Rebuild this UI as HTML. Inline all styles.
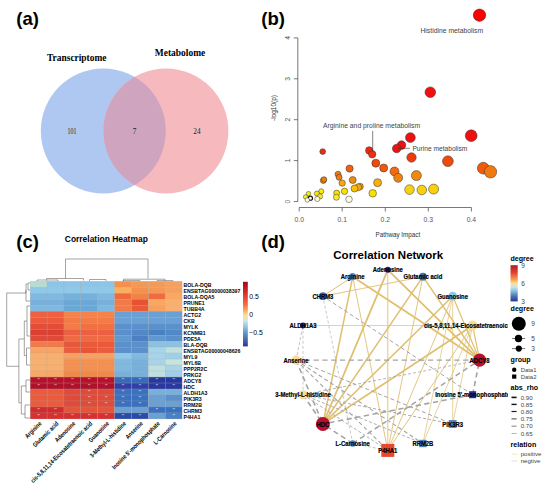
<!DOCTYPE html>
<html><head><meta charset="utf-8"><style>
html,body{margin:0;padding:0;background:#fff;width:550px;height:491px;overflow:hidden}
svg{display:block}

</style></head><body>
<svg width="550" height="491" viewBox="0 0 550 491" font-family="Liberation Sans">
<rect width="550" height="491" fill="#fff"/>
<text x="16.3" y="24.5" font-size="18.5" font-weight="bold" font-family="Liberation Sans">(a)</text>
<defs><clipPath id="cb"><circle cx="103.3" cy="131" r="62.5"/></clipPath></defs>
<circle cx="103.3" cy="131" r="62.5" fill="#afc8f2"/>
<circle cx="165.9" cy="131" r="62.5" fill="#f6babe"/>
<circle cx="165.9" cy="131" r="62.5" fill="#cfa4bf" clip-path="url(#cb)"/>
<text x="47" y="60.8" font-size="9.3" font-weight="bold" font-family="Liberation Serif" textLength="59.5" lengthAdjust="spacingAndGlyphs">Transcriptome</text>
<text x="154.8" y="55.5" font-size="9.3" font-weight="bold" font-family="Liberation Serif" textLength="50.5" lengthAdjust="spacingAndGlyphs">Metabolome</text>
<text x="67.6" y="133.7" font-size="7.3" fill="#222" font-family="Liberation Serif" textLength="8.8" lengthAdjust="spacingAndGlyphs">101</text>
<text x="134.5" y="133.7" font-size="7.3" fill="#222" font-family="Liberation Serif" text-anchor="middle">7</text>
<text x="197" y="133.7" font-size="7.3" fill="#222" font-family="Liberation Serif" text-anchor="middle">24</text>
<text x="261.3" y="24.5" font-size="18.5" font-weight="bold" font-family="Liberation Sans">(b)</text>
<g stroke="#555" stroke-width="0.8" fill="none">
<path d="M297.8 37.9 V201.5"/>
<path d="M293.8 201.5 H297.8"/>
<path d="M293.8 160.6 H297.8"/>
<path d="M293.8 119.7 H297.8"/>
<path d="M293.8 78.8 H297.8"/>
<path d="M293.8 37.9 H297.8"/>
<path d="M299.2 207.5 H471.4"/>
<path d="M299.2 207.5 V211.5"/>
<path d="M342.2 207.5 V211.5"/>
<path d="M385.3 207.5 V211.5"/>
<path d="M428.3 207.5 V211.5"/>
<path d="M471.4 207.5 V211.5"/>
</g>
<text transform="translate(289.5 201.5) rotate(-90)" font-size="6.8" fill="#555" text-anchor="middle" font-family="Liberation Sans">0</text>
<text transform="translate(289.5 160.6) rotate(-90)" font-size="6.8" fill="#555" text-anchor="middle" font-family="Liberation Sans">1</text>
<text transform="translate(289.5 119.7) rotate(-90)" font-size="6.8" fill="#555" text-anchor="middle" font-family="Liberation Sans">2</text>
<text transform="translate(289.5 78.8) rotate(-90)" font-size="6.8" fill="#555" text-anchor="middle" font-family="Liberation Sans">3</text>
<text transform="translate(289.5 37.9) rotate(-90)" font-size="6.8" fill="#555" text-anchor="middle" font-family="Liberation Sans">4</text>
<text x="299.2" y="221.8" font-size="6.8" fill="#555" text-anchor="middle" font-family="Liberation Sans">0.0</text>
<text x="342.2" y="221.8" font-size="6.8" fill="#555" text-anchor="middle" font-family="Liberation Sans">0.1</text>
<text x="385.3" y="221.8" font-size="6.8" fill="#555" text-anchor="middle" font-family="Liberation Sans">0.2</text>
<text x="428.3" y="221.8" font-size="6.8" fill="#555" text-anchor="middle" font-family="Liberation Sans">0.3</text>
<text x="471.4" y="221.8" font-size="6.8" fill="#555" text-anchor="middle" font-family="Liberation Sans">0.4</text>
<text x="375.5" y="236.9" font-size="6.6" fill="#333" font-family="Liberation Sans" textLength="44.7" lengthAdjust="spacingAndGlyphs">Pathway Impact</text>
<text transform="translate(275.5 108) rotate(-90)" font-size="6.5" fill="#333" text-anchor="middle" font-family="Liberation Sans">-log10(p)</text>
<g stroke="#333" stroke-width="0.5">
<circle cx="310.4" cy="198.2" r="2.1" fill="#fffff0" stroke="#111" stroke-width="1.1"/>
<circle cx="308.5" cy="193.6" r="2.2" fill="#f8f000"/>
<circle cx="305.6" cy="196.9" r="2.2" fill="#f8f020"/>
<circle cx="307.3" cy="200" r="2.2" fill="#fffff0"/>
<circle cx="321.3" cy="191.3" r="2.6" fill="#f8ec00"/>
<circle cx="316.9" cy="193.6" r="2.6" fill="#f8e800"/>
<circle cx="320" cy="196.4" r="2.6" fill="#f8ec20"/>
<circle cx="317.3" cy="199" r="2.6" fill="#fffce0"/>
<circle cx="336.7" cy="193.1" r="3.0" fill="#f8e000"/>
<circle cx="336.4" cy="197.3" r="3.0" fill="#f8e830"/>
<circle cx="349" cy="199.3" r="3.3" fill="#fffbe0"/>
<circle cx="344.5" cy="191.3" r="3.2" fill="#f8e000"/>
<circle cx="372.7" cy="193.3" r="3.8" fill="#f8e000"/>
<circle cx="342.2" cy="183.1" r="3.2" fill="#f8a810"/>
<circle cx="360" cy="186.5" r="3.3" fill="#f0a010"/>
<circle cx="358.2" cy="187.3" r="3.5" fill="#f4a810"/>
<circle cx="354.5" cy="188.5" r="3.5" fill="#f8c000"/>
<circle cx="377.6" cy="182.7" r="4.0" fill="#f8b010"/>
<circle cx="352.7" cy="180.0" r="3.5" fill="#f08a10"/>
<circle cx="323.3" cy="180.5" r="3.0" fill="#f09010"/>
<circle cx="324" cy="179.5" r="2.8" fill="#e88010"/>
<circle cx="338.0" cy="174.2" r="3.0" fill="#f07a10"/>
<circle cx="339.1" cy="177.3" r="3.0" fill="#f07a10"/>
<circle cx="349.6" cy="168.6" r="3.6" fill="#f06010"/>
<circle cx="322.7" cy="151.6" r="2.9" fill="#e83010"/>
<circle cx="369.2" cy="150.4" r="3.7" fill="#ee2a0a"/>
<circle cx="372.2" cy="154.3" r="3.7" fill="#ee3010"/>
<circle cx="375.8" cy="163.2" r="4.0" fill="#f04a0a"/>
<circle cx="383.7" cy="168.0" r="4.0" fill="#f05a0a"/>
<circle cx="394.5" cy="171.5" r="4.5" fill="#f06a10"/>
<circle cx="398.2" cy="177.8" r="4.5" fill="#f08010"/>
<circle cx="416.4" cy="175.6" r="5.0" fill="#f08a10"/>
<circle cx="409.5" cy="189.6" r="4.8" fill="#f8d010"/>
<circle cx="421.8" cy="190.0" r="4.8" fill="#f8d010"/>
<circle cx="433.6" cy="189.1" r="5.0" fill="#f8d010"/>
<circle cx="410.4" cy="137.6" r="4.9" fill="#f01010"/>
<circle cx="401.5" cy="145.1" r="4.3" fill="#f01010"/>
<circle cx="396.7" cy="148.5" r="4.3" fill="#f01010"/>
<circle cx="411.5" cy="157.5" r="4.7" fill="#f03a0a"/>
<circle cx="447.9" cy="161.2" r="5.4" fill="#f04a0a"/>
<circle cx="430.3" cy="92.2" r="5.3" fill="#f01010"/>
<circle cx="471.2" cy="135.7" r="5.9" fill="#f01010"/>
<circle cx="483.3" cy="168.2" r="5.9" fill="#f05a0a"/>
<circle cx="490.5" cy="171.8" r="6.2" fill="#f07a10"/>
<circle cx="479.5" cy="15.2" r="6.2" fill="#ff0000"/>
</g>
<text x="451.8" y="32.8" font-size="6.8" fill="#444" text-anchor="middle" font-family="Liberation Sans">Histidine metabolism</text>
<text x="323" y="128" font-size="6.8" fill="#444" font-family="Liberation Sans">Arginine and proline metabolism</text>
<text x="412.4" y="151" font-size="6.8" fill="#444" font-family="Liberation Sans" textLength="55" lengthAdjust="spacingAndGlyphs">Purine metabolism</text>
<path d="M372.7 131 V151.5 M398 148.3 H410" stroke="#333" stroke-width="0.6"/>
<text x="16.3" y="247.8" font-size="18.5" font-weight="bold" font-family="Liberation Sans">(c)</text>
<text x="64.8" y="241.6" font-size="8.45" font-weight="bold" font-family="Liberation Sans">Correlation Heatmap</text>
<g stroke="#a0a0a0" stroke-opacity="0.55" stroke-width="0.4">
<rect x="30.20" y="281.30" width="16.88" height="5.99" fill="#b5dcd4"/>
<rect x="47.08" y="281.30" width="16.88" height="5.99" fill="#8ec4e6"/>
<rect x="63.96" y="281.30" width="16.88" height="5.99" fill="#8ec4e6"/>
<rect x="80.84" y="281.30" width="16.88" height="5.99" fill="#8ec4e6"/>
<rect x="97.72" y="281.30" width="16.88" height="5.99" fill="#8ec4e6"/>
<rect x="114.60" y="281.30" width="16.88" height="5.99" fill="#f4904a"/>
<rect x="131.48" y="281.30" width="16.88" height="5.99" fill="#f49858"/>
<rect x="148.36" y="281.30" width="16.88" height="5.99" fill="#f49a58"/>
<rect x="165.24" y="281.30" width="16.88" height="5.99" fill="#f4a060"/>
<rect x="30.20" y="287.29" width="16.88" height="5.99" fill="#90c8e8"/>
<rect x="47.08" y="287.29" width="16.88" height="5.99" fill="#90c8e8"/>
<rect x="63.96" y="287.29" width="16.88" height="5.99" fill="#90c8e8"/>
<rect x="80.84" y="287.29" width="16.88" height="5.99" fill="#90c8e8"/>
<rect x="97.72" y="287.29" width="16.88" height="5.99" fill="#90c8e8"/>
<rect x="114.60" y="287.29" width="16.88" height="5.99" fill="#f8b060"/>
<rect x="131.48" y="287.29" width="16.88" height="5.99" fill="#f49050"/>
<rect x="148.36" y="287.29" width="16.88" height="5.99" fill="#f49858"/>
<rect x="165.24" y="287.29" width="16.88" height="5.99" fill="#f4a060"/>
<rect x="30.20" y="293.27" width="16.88" height="5.99" fill="#80b8e0"/>
<rect x="47.08" y="293.27" width="16.88" height="5.99" fill="#80b8e0"/>
<rect x="63.96" y="293.27" width="16.88" height="5.99" fill="#78b0dc"/>
<rect x="80.84" y="293.27" width="16.88" height="5.99" fill="#78b0dc"/>
<rect x="97.72" y="293.27" width="16.88" height="5.99" fill="#80b8e0"/>
<rect x="114.60" y="293.27" width="16.88" height="5.99" fill="#f06a3c"/>
<rect x="131.48" y="293.27" width="16.88" height="5.99" fill="#f08446"/>
<rect x="148.36" y="293.27" width="16.88" height="5.99" fill="#f06c40"/>
<rect x="165.24" y="293.27" width="16.88" height="5.99" fill="#f8a860"/>
<rect x="30.20" y="299.25" width="16.88" height="5.99" fill="#78b0dc"/>
<rect x="47.08" y="299.25" width="16.88" height="5.99" fill="#78b0dc"/>
<rect x="63.96" y="299.25" width="16.88" height="5.99" fill="#6aa8d8"/>
<rect x="80.84" y="299.25" width="16.88" height="5.99" fill="#6aa8d8"/>
<rect x="97.72" y="299.25" width="16.88" height="5.99" fill="#78b0dc"/>
<rect x="114.60" y="299.25" width="16.88" height="5.99" fill="#f07a48"/>
<rect x="131.48" y="299.25" width="16.88" height="5.99" fill="#e85232"/>
<rect x="148.36" y="299.25" width="16.88" height="5.99" fill="#f8a860"/>
<rect x="165.24" y="299.25" width="16.88" height="5.99" fill="#f8b070"/>
<rect x="30.20" y="305.24" width="16.88" height="5.99" fill="#80b8e0"/>
<rect x="47.08" y="305.24" width="16.88" height="5.99" fill="#80b8e0"/>
<rect x="63.96" y="305.24" width="16.88" height="5.99" fill="#6aa8d8"/>
<rect x="80.84" y="305.24" width="16.88" height="5.99" fill="#6aa8d8"/>
<rect x="97.72" y="305.24" width="16.88" height="5.99" fill="#80b8e0"/>
<rect x="114.60" y="305.24" width="16.88" height="5.99" fill="#f07a48"/>
<rect x="131.48" y="305.24" width="16.88" height="5.99" fill="#e85a38"/>
<rect x="148.36" y="305.24" width="16.88" height="5.99" fill="#f8a060"/>
<rect x="165.24" y="305.24" width="16.88" height="5.99" fill="#f8b070"/>
<rect x="30.20" y="311.23" width="16.88" height="5.99" fill="#ee6040"/>
<rect x="47.08" y="311.23" width="16.88" height="5.99" fill="#ee6040"/>
<rect x="63.96" y="311.23" width="16.88" height="5.99" fill="#f4844a"/>
<rect x="80.84" y="311.23" width="16.88" height="5.99" fill="#f4844a"/>
<rect x="97.72" y="311.23" width="16.88" height="5.99" fill="#f4844a"/>
<rect x="114.60" y="311.23" width="16.88" height="5.99" fill="#6aa0d4"/>
<rect x="131.48" y="311.23" width="16.88" height="5.99" fill="#6aa0d4"/>
<rect x="148.36" y="311.23" width="16.88" height="5.99" fill="#6aa0d4"/>
<rect x="165.24" y="311.23" width="16.88" height="5.99" fill="#6aa0d4"/>
<rect x="30.20" y="317.21" width="16.88" height="5.99" fill="#ec5a3c"/>
<rect x="47.08" y="317.21" width="16.88" height="5.99" fill="#ec5a3c"/>
<rect x="63.96" y="317.21" width="16.88" height="5.99" fill="#f47a48"/>
<rect x="80.84" y="317.21" width="16.88" height="5.99" fill="#f47a48"/>
<rect x="97.72" y="317.21" width="16.88" height="5.99" fill="#f47a48"/>
<rect x="114.60" y="317.21" width="16.88" height="5.99" fill="#6aa0d4"/>
<rect x="131.48" y="317.21" width="16.88" height="5.99" fill="#6aa0d4"/>
<rect x="148.36" y="317.21" width="16.88" height="5.99" fill="#6aa0d4"/>
<rect x="165.24" y="317.21" width="16.88" height="5.99" fill="#6aa0d4"/>
<rect x="30.20" y="323.19" width="16.88" height="5.99" fill="#e44c38"/>
<rect x="47.08" y="323.19" width="16.88" height="5.99" fill="#e44c38"/>
<rect x="63.96" y="323.19" width="16.88" height="5.99" fill="#f47a48"/>
<rect x="80.84" y="323.19" width="16.88" height="5.99" fill="#f07040"/>
<rect x="97.72" y="323.19" width="16.88" height="5.99" fill="#f07040"/>
<rect x="114.60" y="323.19" width="16.88" height="5.99" fill="#5a90cc"/>
<rect x="131.48" y="323.19" width="16.88" height="5.99" fill="#5a90cc"/>
<rect x="148.36" y="323.19" width="16.88" height="5.99" fill="#5a90cc"/>
<rect x="165.24" y="323.19" width="16.88" height="5.99" fill="#5a90cc"/>
<rect x="30.20" y="329.18" width="16.88" height="5.99" fill="#dc4030"/>
<rect x="47.08" y="329.18" width="16.88" height="5.99" fill="#dc4030"/>
<rect x="63.96" y="329.18" width="16.88" height="5.99" fill="#ec6040"/>
<rect x="80.84" y="329.18" width="16.88" height="5.99" fill="#ec6040"/>
<rect x="97.72" y="329.18" width="16.88" height="5.99" fill="#ec6040"/>
<rect x="114.60" y="329.18" width="16.88" height="5.99" fill="#5a90cc"/>
<rect x="131.48" y="329.18" width="16.88" height="5.99" fill="#5088c8"/>
<rect x="148.36" y="329.18" width="16.88" height="5.99" fill="#4a80c4"/>
<rect x="165.24" y="329.18" width="16.88" height="5.99" fill="#5088c8"/>
<rect x="30.20" y="335.17" width="16.88" height="5.99" fill="#e04838"/>
<rect x="47.08" y="335.17" width="16.88" height="5.99" fill="#e04838"/>
<rect x="63.96" y="335.17" width="16.88" height="5.99" fill="#f06a44"/>
<rect x="80.84" y="335.17" width="16.88" height="5.99" fill="#f06a44"/>
<rect x="97.72" y="335.17" width="16.88" height="5.99" fill="#f06a44"/>
<rect x="114.60" y="335.17" width="16.88" height="5.99" fill="#6098d0"/>
<rect x="131.48" y="335.17" width="16.88" height="5.99" fill="#4a80c4"/>
<rect x="148.36" y="335.17" width="16.88" height="5.99" fill="#6098d0"/>
<rect x="165.24" y="335.17" width="16.88" height="5.99" fill="#5a90cc"/>
<rect x="30.20" y="341.15" width="16.88" height="5.99" fill="#f07a48"/>
<rect x="47.08" y="341.15" width="16.88" height="5.99" fill="#f07a48"/>
<rect x="63.96" y="341.15" width="16.88" height="5.99" fill="#e85838"/>
<rect x="80.84" y="341.15" width="16.88" height="5.99" fill="#ec5838"/>
<rect x="97.72" y="341.15" width="16.88" height="5.99" fill="#ec5838"/>
<rect x="114.60" y="341.15" width="16.88" height="5.99" fill="#5a90cc"/>
<rect x="131.48" y="341.15" width="16.88" height="5.99" fill="#5a90cc"/>
<rect x="148.36" y="341.15" width="16.88" height="5.99" fill="#8ec0e0"/>
<rect x="165.24" y="341.15" width="16.88" height="5.99" fill="#8ec0e0"/>
<rect x="30.20" y="347.13" width="16.88" height="5.99" fill="#f8a468"/>
<rect x="47.08" y="347.13" width="16.88" height="5.99" fill="#f8a468"/>
<rect x="63.96" y="347.13" width="16.88" height="5.99" fill="#ec5c3c"/>
<rect x="80.84" y="347.13" width="16.88" height="5.99" fill="#e85434"/>
<rect x="97.72" y="347.13" width="16.88" height="5.99" fill="#ec5c3c"/>
<rect x="114.60" y="347.13" width="16.88" height="5.99" fill="#5a90cc"/>
<rect x="131.48" y="347.13" width="16.88" height="5.99" fill="#5a90cc"/>
<rect x="148.36" y="347.13" width="16.88" height="5.99" fill="#a8d4e8"/>
<rect x="165.24" y="347.13" width="16.88" height="5.99" fill="#c0e0e0"/>
<rect x="30.20" y="353.12" width="16.88" height="5.99" fill="#f8b070"/>
<rect x="47.08" y="353.12" width="16.88" height="5.99" fill="#f8b070"/>
<rect x="63.96" y="353.12" width="16.88" height="5.99" fill="#f8a060"/>
<rect x="80.84" y="353.12" width="16.88" height="5.99" fill="#f8a060"/>
<rect x="97.72" y="353.12" width="16.88" height="5.99" fill="#f8a060"/>
<rect x="114.60" y="353.12" width="16.88" height="5.99" fill="#90c8e8"/>
<rect x="131.48" y="353.12" width="16.88" height="5.99" fill="#80b8e0"/>
<rect x="148.36" y="353.12" width="16.88" height="5.99" fill="#a8d4e8"/>
<rect x="165.24" y="353.12" width="16.88" height="5.99" fill="#a0d0e8"/>
<rect x="30.20" y="359.11" width="16.88" height="5.99" fill="#f8b070"/>
<rect x="47.08" y="359.11" width="16.88" height="5.99" fill="#f8b070"/>
<rect x="63.96" y="359.11" width="16.88" height="5.99" fill="#f49050"/>
<rect x="80.84" y="359.11" width="16.88" height="5.99" fill="#f49050"/>
<rect x="97.72" y="359.11" width="16.88" height="5.99" fill="#f49050"/>
<rect x="114.60" y="359.11" width="16.88" height="5.99" fill="#80b8e0"/>
<rect x="131.48" y="359.11" width="16.88" height="5.99" fill="#78b0dc"/>
<rect x="148.36" y="359.11" width="16.88" height="5.99" fill="#a8d4e8"/>
<rect x="165.24" y="359.11" width="16.88" height="5.99" fill="#c8e4dc"/>
<rect x="30.20" y="365.09" width="16.88" height="5.99" fill="#f8b070"/>
<rect x="47.08" y="365.09" width="16.88" height="5.99" fill="#f8b070"/>
<rect x="63.96" y="365.09" width="16.88" height="5.99" fill="#f49050"/>
<rect x="80.84" y="365.09" width="16.88" height="5.99" fill="#f49050"/>
<rect x="97.72" y="365.09" width="16.88" height="5.99" fill="#f49050"/>
<rect x="114.60" y="365.09" width="16.88" height="5.99" fill="#80b8e0"/>
<rect x="131.48" y="365.09" width="16.88" height="5.99" fill="#78b0dc"/>
<rect x="148.36" y="365.09" width="16.88" height="5.99" fill="#c0e0e0"/>
<rect x="165.24" y="365.09" width="16.88" height="5.99" fill="#a8d4e8"/>
<rect x="30.20" y="371.08" width="16.88" height="5.99" fill="#f8a868"/>
<rect x="47.08" y="371.08" width="16.88" height="5.99" fill="#f8a868"/>
<rect x="63.96" y="371.08" width="16.88" height="5.99" fill="#f08848"/>
<rect x="80.84" y="371.08" width="16.88" height="5.99" fill="#f08848"/>
<rect x="97.72" y="371.08" width="16.88" height="5.99" fill="#f08848"/>
<rect x="114.60" y="371.08" width="16.88" height="5.99" fill="#78b0dc"/>
<rect x="131.48" y="371.08" width="16.88" height="5.99" fill="#78b0dc"/>
<rect x="148.36" y="371.08" width="16.88" height="5.99" fill="#c0e0e0"/>
<rect x="165.24" y="371.08" width="16.88" height="5.99" fill="#a0d0e8"/>
<rect x="30.20" y="377.06" width="16.88" height="5.99" fill="#b8102a"/>
<rect x="47.08" y="377.06" width="16.88" height="5.99" fill="#b8102a"/>
<rect x="63.96" y="377.06" width="16.88" height="5.99" fill="#b8102a"/>
<rect x="80.84" y="377.06" width="16.88" height="5.99" fill="#b8102a"/>
<rect x="97.72" y="377.06" width="16.88" height="5.99" fill="#b8102a"/>
<rect x="114.60" y="377.06" width="16.88" height="5.99" fill="#3868b8"/>
<rect x="131.48" y="377.06" width="16.88" height="5.99" fill="#3868b8"/>
<rect x="148.36" y="377.06" width="16.88" height="5.99" fill="#2838a0"/>
<rect x="165.24" y="377.06" width="16.88" height="5.99" fill="#2838a0"/>
<rect x="30.20" y="383.05" width="16.88" height="5.99" fill="#b0102a"/>
<rect x="47.08" y="383.05" width="16.88" height="5.99" fill="#b0102a"/>
<rect x="63.96" y="383.05" width="16.88" height="5.99" fill="#b0102a"/>
<rect x="80.84" y="383.05" width="16.88" height="5.99" fill="#b0102a"/>
<rect x="97.72" y="383.05" width="16.88" height="5.99" fill="#b0102a"/>
<rect x="114.60" y="383.05" width="16.88" height="5.99" fill="#3040a8"/>
<rect x="131.48" y="383.05" width="16.88" height="5.99" fill="#3040a8"/>
<rect x="148.36" y="383.05" width="16.88" height="5.99" fill="#2838a0"/>
<rect x="165.24" y="383.05" width="16.88" height="5.99" fill="#2838a0"/>
<rect x="30.20" y="389.03" width="16.88" height="5.99" fill="#ec5a3c"/>
<rect x="47.08" y="389.03" width="16.88" height="5.99" fill="#ec5a3c"/>
<rect x="63.96" y="389.03" width="16.88" height="5.99" fill="#e04a38"/>
<rect x="80.84" y="389.03" width="16.88" height="5.99" fill="#e04a38"/>
<rect x="97.72" y="389.03" width="16.88" height="5.99" fill="#e04a38"/>
<rect x="114.60" y="389.03" width="16.88" height="5.99" fill="#3a70c0"/>
<rect x="131.48" y="389.03" width="16.88" height="5.99" fill="#3a70c0"/>
<rect x="148.36" y="389.03" width="16.88" height="5.99" fill="#78b0dc"/>
<rect x="165.24" y="389.03" width="16.88" height="5.99" fill="#78b0dc"/>
<rect x="30.20" y="395.01" width="16.88" height="5.99" fill="#ec5a3c"/>
<rect x="47.08" y="395.01" width="16.88" height="5.99" fill="#ec5a3c"/>
<rect x="63.96" y="395.01" width="16.88" height="5.99" fill="#e04a38"/>
<rect x="80.84" y="395.01" width="16.88" height="5.99" fill="#e04a38"/>
<rect x="97.72" y="395.01" width="16.88" height="5.99" fill="#e04a38"/>
<rect x="114.60" y="395.01" width="16.88" height="5.99" fill="#3a70c0"/>
<rect x="131.48" y="395.01" width="16.88" height="5.99" fill="#3a70c0"/>
<rect x="148.36" y="395.01" width="16.88" height="5.99" fill="#6aa0d4"/>
<rect x="165.24" y="395.01" width="16.88" height="5.99" fill="#5a90cc"/>
<rect x="30.20" y="401.00" width="16.88" height="5.99" fill="#ec5a3c"/>
<rect x="47.08" y="401.00" width="16.88" height="5.99" fill="#ec5a3c"/>
<rect x="63.96" y="401.00" width="16.88" height="5.99" fill="#e04a38"/>
<rect x="80.84" y="401.00" width="16.88" height="5.99" fill="#e04a38"/>
<rect x="97.72" y="401.00" width="16.88" height="5.99" fill="#e04a38"/>
<rect x="114.60" y="401.00" width="16.88" height="5.99" fill="#3a70c0"/>
<rect x="131.48" y="401.00" width="16.88" height="5.99" fill="#3a70c0"/>
<rect x="148.36" y="401.00" width="16.88" height="5.99" fill="#6aa0d4"/>
<rect x="165.24" y="401.00" width="16.88" height="5.99" fill="#6aa0d4"/>
<rect x="30.20" y="406.99" width="16.88" height="5.99" fill="#d42a2c"/>
<rect x="47.08" y="406.99" width="16.88" height="5.99" fill="#d42a2c"/>
<rect x="63.96" y="406.99" width="16.88" height="5.99" fill="#e85438"/>
<rect x="80.84" y="406.99" width="16.88" height="5.99" fill="#e85438"/>
<rect x="97.72" y="406.99" width="16.88" height="5.99" fill="#e85438"/>
<rect x="114.60" y="406.99" width="16.88" height="5.99" fill="#6aa0d4"/>
<rect x="131.48" y="406.99" width="16.88" height="5.99" fill="#6aa0d4"/>
<rect x="148.36" y="406.99" width="16.88" height="5.99" fill="#3a70c0"/>
<rect x="165.24" y="406.99" width="16.88" height="5.99" fill="#3a70c0"/>
<rect x="30.20" y="412.97" width="16.88" height="5.99" fill="#d83030"/>
<rect x="47.08" y="412.97" width="16.88" height="5.99" fill="#d83030"/>
<rect x="63.96" y="412.97" width="16.88" height="5.99" fill="#d83030"/>
<rect x="80.84" y="412.97" width="16.88" height="5.99" fill="#d83030"/>
<rect x="97.72" y="412.97" width="16.88" height="5.99" fill="#d83030"/>
<rect x="114.60" y="412.97" width="16.88" height="5.99" fill="#2c4aa8"/>
<rect x="131.48" y="412.97" width="16.88" height="5.99" fill="#2c4aa8"/>
<rect x="148.36" y="412.97" width="16.88" height="5.99" fill="#6aa0d4"/>
<rect x="165.24" y="412.97" width="16.88" height="5.99" fill="#4a80c4"/>
</g>
<g fill="#fff" font-size="3" font-family="Liberation Sans" text-anchor="middle">
<text x="38.64" y="381.25">**</text>
<text x="55.52" y="381.25">**</text>
<text x="72.40" y="381.25">**</text>
<text x="89.28" y="381.25">**</text>
<text x="106.16" y="381.25">**</text>
<text x="123.04" y="381.25">**</text>
<text x="139.92" y="381.25">**</text>
<text x="156.80" y="381.25">**</text>
<text x="173.68" y="381.25">**</text>
<text x="38.64" y="387.24">**</text>
<text x="55.52" y="387.24">**</text>
<text x="72.40" y="387.24">**</text>
<text x="89.28" y="387.24">**</text>
<text x="106.16" y="387.24">**</text>
<text x="123.04" y="387.24">**</text>
<text x="139.92" y="387.24">**</text>
<text x="156.80" y="387.24">**</text>
<text x="173.68" y="387.24">**</text>
<text x="89.28" y="393.22">**</text>
<text x="123.04" y="393.22">**</text>
<text x="139.92" y="393.22">**</text>
<text x="89.28" y="399.21">**</text>
<text x="106.16" y="399.21">**</text>
<text x="123.04" y="399.21">**</text>
<text x="139.92" y="399.21">**</text>
<text x="89.28" y="405.19">**</text>
<text x="106.16" y="405.19">**</text>
<text x="123.04" y="405.19">**</text>
<text x="139.92" y="405.19">**</text>
<text x="38.64" y="411.18">**</text>
<text x="55.52" y="411.18">**</text>
<text x="156.80" y="411.18">**</text>
<text x="173.68" y="411.18">**</text>
<text x="38.64" y="417.16">**</text>
<text x="55.52" y="417.16">**</text>
<text x="72.40" y="417.16">**</text>
<text x="89.28" y="417.16">**</text>
<text x="106.16" y="417.16">**</text>
<text x="123.04" y="417.16">**</text>
<text x="139.92" y="417.16">**</text>
<text x="173.68" y="417.16">**</text>
</g>
<g font-size="5.8" font-weight="bold" font-family="Liberation Sans">
<text x="183.5" y="286.99" textLength="28.0" lengthAdjust="spacingAndGlyphs">BOLA-DQB</text>
<text x="183.5" y="292.98" textLength="56.8" lengthAdjust="spacingAndGlyphs">ENSBTAG00000038397</text>
<text x="183.5" y="298.96" textLength="30.9" lengthAdjust="spacingAndGlyphs">BOLA-DQA5</text>
<text x="183.5" y="304.95" textLength="21.1" lengthAdjust="spacingAndGlyphs">PRUNE1</text>
<text x="183.5" y="310.93" textLength="21.1" lengthAdjust="spacingAndGlyphs">TUBB4A</text>
<text x="183.5" y="316.92" textLength="17.6" lengthAdjust="spacingAndGlyphs">ACTG2</text>
<text x="183.5" y="322.90" textLength="11.3" lengthAdjust="spacingAndGlyphs">CKB</text>
<text x="183.5" y="328.89" textLength="14.7" lengthAdjust="spacingAndGlyphs">MYLK</text>
<text x="183.5" y="334.87" textLength="22.2" lengthAdjust="spacingAndGlyphs">KCNMB1</text>
<text x="183.5" y="340.86" textLength="17.3" lengthAdjust="spacingAndGlyphs">PDE5A</text>
<text x="183.5" y="346.84" textLength="24.0" lengthAdjust="spacingAndGlyphs">BLA-DQB</text>
<text x="183.5" y="352.83" textLength="56.8" lengthAdjust="spacingAndGlyphs">ENSBTAG00000048626</text>
<text x="183.5" y="358.81" textLength="13.9" lengthAdjust="spacingAndGlyphs">MYL9</text>
<text x="183.5" y="364.80" textLength="17.6" lengthAdjust="spacingAndGlyphs">MYL6B</text>
<text x="183.5" y="370.78" textLength="23.7" lengthAdjust="spacingAndGlyphs">PPP2R2C</text>
<text x="183.5" y="376.77" textLength="17.9" lengthAdjust="spacingAndGlyphs">PRKG2</text>
<text x="183.5" y="382.75" textLength="17.6" lengthAdjust="spacingAndGlyphs">ADCY8</text>
<text x="183.5" y="388.74" textLength="11.3" lengthAdjust="spacingAndGlyphs">HDC</text>
<text x="183.5" y="394.72" textLength="24.0" lengthAdjust="spacingAndGlyphs">ALDH1A3</text>
<text x="183.5" y="400.71" textLength="18.2" lengthAdjust="spacingAndGlyphs">PIK3R3</text>
<text x="183.5" y="406.69" textLength="18.5" lengthAdjust="spacingAndGlyphs">RRM2B</text>
<text x="183.5" y="412.68" textLength="18.5" lengthAdjust="spacingAndGlyphs">CHRM3</text>
<text x="183.5" y="418.66" textLength="16.8" lengthAdjust="spacingAndGlyphs">P4HA1</text>
</g>
<g font-size="6.3" font-weight="bold" font-family="Liberation Sans" text-anchor="end">
<text transform="translate(42.04 424) rotate(-45)" textLength="20.7" lengthAdjust="spacingAndGlyphs">Arginine</text>
<text transform="translate(58.92 424) rotate(-45)" textLength="33.4" lengthAdjust="spacingAndGlyphs">Glutamic acid</text>
<text transform="translate(75.80 424) rotate(-45)" textLength="26.1" lengthAdjust="spacingAndGlyphs">Adenosine</text>
<text transform="translate(92.68 424) rotate(-45)" textLength="83.9" lengthAdjust="spacingAndGlyphs">cis-5,8,11,14-Eicosatetraenoic acid</text>
<text transform="translate(109.56 424) rotate(-45)" textLength="26.4" lengthAdjust="spacingAndGlyphs">Guanosine</text>
<text transform="translate(126.44 424) rotate(-45)" textLength="48.2" lengthAdjust="spacingAndGlyphs">3-Methyl-L-histidine</text>
<text transform="translate(143.32 424) rotate(-45)" textLength="21.8" lengthAdjust="spacingAndGlyphs">Anserine</text>
<text transform="translate(160.20 424) rotate(-45)" textLength="64.7" lengthAdjust="spacingAndGlyphs">Inosine 5&#39;-monophosphate</text>
<text transform="translate(177.08 424) rotate(-45)" textLength="29.8" lengthAdjust="spacingAndGlyphs">L-Carnosine</text>
</g>
<g stroke="#666" stroke-width="0.6" fill="none">
<path d="M65.5 278.5 V259 H148 V278.5"/>
<path d="M46.6 280.5 V278.5 H83.5 V280.5"/>
<path d="M37 281 V280 H58 V281 M89.5 281 V279.5 H106 V281"/>
<path d="M123.5 281 V279.2 H165 V281"/>
<path d="M123 281.2 V280.6 H140 V281.2 M157 281.2 V280.6 H173 V281.2"/>
<path d="M27.5 284 H26 V293 H6.7 V366.3 H18.9"/>
<path d="M18.9 339 V402.8 M18.9 339 H24.3 M18.9 402.8 H21.3"/>
<path d="M24.3 321 V355.6 M24.3 321 H27 M24.3 355.6 H26.5"/>
<path d="M21.3 386 V414 M21.3 386 H26 M21.3 414 H25"/>
<path d="M27 306 V336 M27 306 H30 M27 336 H30 M26.5 348 V365 M26.5 348 H30 M26.5 365 H30"/>
<path d="M26 380 V392 H30 M26 380 H30 M25 405 V418 H30 M25 405 H30"/>
<path d="M28 283 V290 H30 M28 283 H30 M26 290 V301 H30"/>
</g>
<defs><linearGradient id="hm" x1="0" y1="0" x2="0" y2="1"><stop offset="0" stop-color="#a50026"/><stop offset="0.17" stop-color="#d73027"/><stop offset="0.35" stop-color="#f46d43"/><stop offset="0.45" stop-color="#fdae61"/><stop offset="0.52" stop-color="#fee090"/><stop offset="0.6" stop-color="#cfe8e6"/><stop offset="0.68" stop-color="#9ecae1"/><stop offset="0.8" stop-color="#5b93c8"/><stop offset="0.92" stop-color="#3f5fa8"/><stop offset="1" stop-color="#2b3590"/></linearGradient></defs>
<rect x="243" y="281.8" width="4.8" height="64.6" fill="url(#hm)"/>
<g font-size="6.8" font-family="Liberation Sans">
<text x="249.3" y="298.8">0.5</text><text x="249.3" y="316.6">0</text><text x="249.3" y="335.1">&#8722;0.5</text>
</g>
<text x="261.3" y="247.8" font-size="18.5" font-weight="bold" font-family="Liberation Sans">(d)</text>
<text x="333.3" y="259.4" font-size="11.5" font-weight="bold" font-family="Liberation Sans">Correlation Network</text>
<line x1="352.7" y1="276.7" x2="479.6" y2="360.1" stroke="#e0c070" stroke-width="1.8"/>
<line x1="352.7" y1="276.7" x2="322.9" y2="424.0" stroke="#e0c070" stroke-width="1.5"/>
<line x1="352.7" y1="276.7" x2="387.8" y2="450.4" stroke="#e0c070" stroke-width="0.9"/>
<line x1="352.7" y1="276.7" x2="322.9" y2="296.2" stroke="#e0c070" stroke-width="1.0"/>
<line x1="387.8" y1="269.8" x2="479.6" y2="360.1" stroke="#e0c070" stroke-width="1.8"/>
<line x1="387.8" y1="269.8" x2="322.9" y2="424.0" stroke="#e0c070" stroke-width="1.8"/>
<line x1="387.8" y1="269.8" x2="387.8" y2="450.4" stroke="#e0c070" stroke-width="0.9"/>
<line x1="422.9" y1="276.7" x2="479.6" y2="360.1" stroke="#e0c070" stroke-width="1.5"/>
<line x1="422.9" y1="276.7" x2="322.9" y2="424.0" stroke="#e0c070" stroke-width="1.5"/>
<line x1="422.9" y1="276.7" x2="387.8" y2="450.4" stroke="#e0c070" stroke-width="0.9"/>
<line x1="422.9" y1="276.7" x2="322.9" y2="296.2" stroke="#e0c070" stroke-width="0.9"/>
<line x1="452.7" y1="296.2" x2="479.6" y2="360.1" stroke="#e0c070" stroke-width="1.2"/>
<line x1="452.7" y1="296.2" x2="322.9" y2="424.0" stroke="#e0c070" stroke-width="1.6"/>
<line x1="452.7" y1="296.2" x2="387.8" y2="450.4" stroke="#e0c070" stroke-width="0.9"/>
<line x1="452.7" y1="296.2" x2="452.7" y2="424.0" stroke="#e0c070" stroke-width="0.7"/>
<line x1="452.7" y1="296.2" x2="422.9" y2="443.5" stroke="#e0c070" stroke-width="0.7"/>
<line x1="472.6" y1="325.5" x2="479.6" y2="360.1" stroke="#e0c070" stroke-width="1.2"/>
<line x1="472.6" y1="325.5" x2="322.9" y2="424.0" stroke="#e0c070" stroke-width="1.6"/>
<line x1="472.6" y1="325.5" x2="387.8" y2="450.4" stroke="#e0c070" stroke-width="0.9"/>
<line x1="472.6" y1="325.5" x2="303.0" y2="325.5" stroke="#e0c070" stroke-width="0.7"/>
<line x1="472.6" y1="325.5" x2="452.7" y2="424.0" stroke="#e0c070" stroke-width="0.7"/>
<line x1="472.6" y1="325.5" x2="422.9" y2="443.5" stroke="#e0c070" stroke-width="0.7"/>
<line x1="296.0" y1="360.1" x2="479.6" y2="360.1" stroke="#a4a4a4" stroke-width="1.45" stroke-dasharray="5.2 3.6"/>
<line x1="296.0" y1="360.1" x2="322.9" y2="424.0" stroke="#a4a4a4" stroke-width="1.6" stroke-dasharray="5.2 3.6"/>
<line x1="296.0" y1="360.1" x2="387.8" y2="450.4" stroke="#a4a4a4" stroke-width="1.1" stroke-dasharray="4 2.8"/>
<line x1="296.0" y1="360.1" x2="303.0" y2="325.5" stroke="#a4a4a4" stroke-width="0.7" stroke-dasharray="3 2.1"/>
<line x1="296.0" y1="360.1" x2="452.7" y2="424.0" stroke="#a4a4a4" stroke-width="1.0" stroke-dasharray="4 2.8"/>
<line x1="296.0" y1="360.1" x2="422.9" y2="443.5" stroke="#a4a4a4" stroke-width="1.1" stroke-dasharray="4 2.8"/>
<line x1="303.0" y1="394.7" x2="479.6" y2="360.1" stroke="#a4a4a4" stroke-width="0.8" stroke-dasharray="3 2.1"/>
<line x1="303.0" y1="394.7" x2="322.9" y2="424.0" stroke="#a4a4a4" stroke-width="1.6" stroke-dasharray="5.2 3.6"/>
<line x1="303.0" y1="394.7" x2="387.8" y2="450.4" stroke="#a4a4a4" stroke-width="0.9" stroke-dasharray="3 2.1"/>
<line x1="303.0" y1="394.7" x2="303.0" y2="325.5" stroke="#a4a4a4" stroke-width="0.6" stroke-dasharray="3 2.1"/>
<line x1="303.0" y1="394.7" x2="452.7" y2="424.0" stroke="#a4a4a4" stroke-width="0.9" stroke-dasharray="3 2.1"/>
<line x1="303.0" y1="394.7" x2="422.9" y2="443.5" stroke="#a4a4a4" stroke-width="0.9" stroke-dasharray="3 2.1"/>
<line x1="472.6" y1="394.7" x2="479.6" y2="360.1" stroke="#a4a4a4" stroke-width="1.6" stroke-dasharray="5.2 3.6"/>
<line x1="472.6" y1="394.7" x2="322.9" y2="424.0" stroke="#a4a4a4" stroke-width="1.6" stroke-dasharray="5.2 3.6"/>
<line x1="472.6" y1="394.7" x2="322.9" y2="296.2" stroke="#a4a4a4" stroke-width="1.0" stroke-dasharray="4 2.8"/>
<line x1="352.7" y1="443.5" x2="479.6" y2="360.1" stroke="#a4a4a4" stroke-width="1.5" stroke-dasharray="5.2 3.6"/>
<line x1="352.7" y1="443.5" x2="322.9" y2="424.0" stroke="#a4a4a4" stroke-width="1.5" stroke-dasharray="5.2 3.6"/>
<line x1="352.7" y1="443.5" x2="322.9" y2="296.2" stroke="#a4a4a4" stroke-width="0.6" stroke-dasharray="3 2.1"/>
<line x1="352.7" y1="443.5" x2="387.8" y2="450.4" stroke="#a4a4a4" stroke-width="0.7" stroke-dasharray="3 2.1"/>
<circle cx="479.6" cy="360.1" r="6.6" fill="#b80f2e"/>
<rect x="469.1" y="391.2" width="7" height="7" fill="#2a2a90"/>
<rect x="448.8" y="420.1" width="7.8" height="7.8" fill="#4a80c0"/>
<rect x="419.2" y="439.8" width="7.4" height="7.4" fill="#4a80c0"/>
<rect x="381.3" y="443.9" width="13" height="13" fill="#e54a30"/>
<circle cx="352.7" cy="443.5" r="3.3" fill="#4a80c0"/>
<circle cx="322.9" cy="424.0" r="7.0" fill="#b80f2e"/>
<circle cx="303.0" cy="394.7" r="4.5" fill="#f8dc94"/>
<circle cx="296.0" cy="360.1" r="4.6" fill="#f8dc94"/>
<circle cx="303.0" cy="325.5" r="2.9" fill="#1e1e84"/>
<circle cx="322.9" cy="296.2" r="3.9" fill="#3e6cae"/>
<circle cx="352.7" cy="276.7" r="3.6" fill="#5a8ac8"/>
<circle cx="387.8" cy="269.8" r="3.0" fill="#20208a"/>
<circle cx="422.9" cy="276.7" r="3.9" fill="#3f6fb3"/>
<circle cx="452.7" cy="296.2" r="4.4" fill="#8ec6e6"/>
<circle cx="472.6" cy="325.5" r="5.0" fill="#f8dc94"/>
<defs><clipPath id="lc"><rect x="250" y="240" width="258" height="251"/></clipPath></defs>
<g font-size="6.5" font-weight="bold" font-family="Liberation Sans" text-anchor="middle" clip-path="url(#lc)" stroke="#000" stroke-width="0.18">
<text x="479.6" y="362.6" textLength="20.0" lengthAdjust="spacingAndGlyphs">ADCY8</text>
<text x="472.6" y="397.2" textLength="74.8" lengthAdjust="spacingAndGlyphs">Inosine 5&#39;-monophosphate</text>
<text x="452.7" y="426.5" textLength="20.7" lengthAdjust="spacingAndGlyphs">PIK3R3</text>
<text x="422.9" y="446.0" textLength="21.0" lengthAdjust="spacingAndGlyphs">RRM2B</text>
<text x="387.8" y="452.9" textLength="19.0" lengthAdjust="spacingAndGlyphs">P4HA1</text>
<text x="352.7" y="446.0" textLength="34.4" lengthAdjust="spacingAndGlyphs">L-Carnosine</text>
<text x="322.9" y="426.5" textLength="12.8" lengthAdjust="spacingAndGlyphs">HDC</text>
<text x="303.0" y="397.2" textLength="55.7" lengthAdjust="spacingAndGlyphs">3-Methyl-L-histidine</text>
<text x="296.0" y="362.6" textLength="25.2" lengthAdjust="spacingAndGlyphs">Anserine</text>
<text x="303.0" y="328.0" textLength="27.2" lengthAdjust="spacingAndGlyphs">ALDH1A3</text>
<text x="322.9" y="298.7" textLength="21.0" lengthAdjust="spacingAndGlyphs">CHRM3</text>
<text x="352.7" y="279.2" textLength="23.9" lengthAdjust="spacingAndGlyphs">Arginine</text>
<text x="387.8" y="272.3" textLength="30.2" lengthAdjust="spacingAndGlyphs">Adenosine</text>
<text x="422.9" y="279.2" textLength="38.7" lengthAdjust="spacingAndGlyphs">Glutamic acid</text>
<text x="452.7" y="298.7" textLength="30.5" lengthAdjust="spacingAndGlyphs">Guanosine</text>
<text x="472.6" y="328.0" textLength="97.1" lengthAdjust="spacingAndGlyphs">cis-5,8,11,14-Eicosatetraenoic acid</text>
</g>
<g font-family="Liberation Sans">
<g font-size="7.1" font-weight="bold">
<text x="510.4" y="260.8">degree</text><text x="510.6" y="311">degree</text><text x="510.6" y="362.4">group</text><text x="510.6" y="390">abs_rho</text><text x="510.6" y="446.6">relation</text>
</g>
<defs><linearGradient id="dg" x1="0" y1="0" x2="0" y2="1"><stop offset="0" stop-color="#b01c2e"/><stop offset="0.2" stop-color="#e0402c"/><stop offset="0.38" stop-color="#f59450"/><stop offset="0.5" stop-color="#fee08b"/><stop offset="0.6" stop-color="#c9e5ef"/><stop offset="0.7" stop-color="#92c5de"/><stop offset="0.85" stop-color="#4a78b8"/><stop offset="1" stop-color="#2e3192"/></linearGradient></defs>
<rect x="510.5" y="265.2" width="7.2" height="36.2" fill="url(#dg)"/>
<g font-size="6.5" fill="#444"><text x="521.3" y="268.2">9</text><text x="521.3" y="286">6</text><text x="521.3" y="303.7">3</text></g>
<g stroke="#222" stroke-width="0.6"><path d="M512 338.5 H525.2 M512 348.6 H525.2"/></g>
<circle cx="518.8" cy="323.8" r="7" fill="#000"/><circle cx="518.5" cy="338.5" r="3.7" fill="#000"/><circle cx="518.8" cy="348.6" r="3.1" fill="#000"/>
<g font-size="6.5" fill="#444"><text x="531.3" y="326.2">9</text><text x="531.3" y="340.9">5</text><text x="531.3" y="351">3</text></g>
<circle cx="514.2" cy="369.7" r="2.2" fill="#000"/><rect x="512.1" y="374.5" width="4.2" height="4.2" fill="#000"/>
<g font-size="5.9" fill="#444"><text x="520.7" y="371.8">Data1</text><text x="520.7" y="378.8">Data2</text></g>
<path d="M511.5 397.4 H516.6" stroke="#111" stroke-width="1.6"/>
<text x="520.7" y="399.6" font-size="6.1" fill="#444">0.90</text>
<path d="M511.5 404.4 H516.6" stroke="#111" stroke-width="1.4"/>
<text x="520.7" y="406.6" font-size="6.1" fill="#444">0.85</text>
<path d="M511.5 411.5 H516.6" stroke="#222" stroke-width="1.2"/>
<text x="520.7" y="413.7" font-size="6.1" fill="#444">0.80</text>
<path d="M511.5 418.9 H516.6" stroke="#444" stroke-width="1.0"/>
<text x="520.7" y="421.1" font-size="6.1" fill="#444">0.75</text>
<path d="M511.5 426.2 H516.6" stroke="#666" stroke-width="0.8"/>
<text x="520.7" y="428.4" font-size="6.1" fill="#444">0.70</text>
<path d="M511.5 433.5 H516.6" stroke="#888" stroke-width="0.6"/>
<text x="520.7" y="435.7" font-size="6.1" fill="#444">0.65</text>
<path d="M511.5 454.2 H518" stroke="#e8d8a0" stroke-width="0.6"/><path d="M511.5 461 H518" stroke="#bbb" stroke-width="0.6" stroke-dasharray="2 1"/>
<g font-size="6.1" fill="#444"><text x="520.7" y="456.4">positive</text><text x="520.7" y="463.4">negtive</text></g>
</g>
</svg></body></html>
